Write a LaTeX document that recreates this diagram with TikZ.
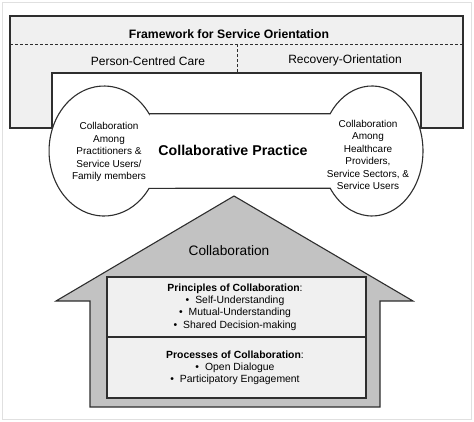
\documentclass[tikz,border=0pt]{standalone}
\usepackage{fontspec}
\setmainfont{Liberation Sans}
\definecolor{panel}{HTML}{F0F0F0}
\definecolor{roof}{HTML}{C2C2C2}
\definecolor{edge}{HTML}{2E2E2E}
\begin{document}
\begin{tikzpicture}[x=1pt, y=-1pt, line width=1.1pt,
  every node/.style={align=center, inner sep=0pt, font=\fontsize{10.4}{12.3}\selectfont},
  header/.style={font=\fontsize{12.2}{14}\selectfont\bfseries},
  pillar/.style={font=\fontsize{12}{14}\selectfont},
  circletext/.style={font=\fontsize{10}{12.5}\selectfont},
  outline/.style={draw=edge}]

  \useasboundingbox (0,0) rectangle (474,421);
  \draw[black!12, line width=0.8pt] (2,2) rectangle (471,419);

  % Framework frame
  \draw[outline, fill=panel] (10,16) -- (463,16) -- (463,128) -- (421,128)
    -- (421,73) -- (52,73) -- (52,128) -- (10,128) -- cycle;
  \draw[edge, line width=0.7pt, densely dashed] (10,44) -- (463,44);
  \draw[edge, line width=0.7pt, densely dashed] (237,44) -- (237,73);

  \node[header] (framework) at (229,34) {Framework for Service Orientation};
  \node[pillar] (personcare) at (148,61) {Person-Centred Care};
  \node[pillar] (recovery) at (345,60) {Recovery-Orientation};

  % Collaborative practice bone
  \draw[outline, fill=white] (149.1,113.7) -- (330.2,113.7)
    arc[start angle=-145, end angle=145, x radius=51, y radius=65]
    -- (149.1,188.3)
    arc[start angle=35, end angle=325, x radius=55, y radius=65] -- cycle;

  \node[font=\fontsize{14.2}{16}\selectfont\bfseries] (practice) at (233,150) {Collaborative Practice};
  \node[circletext] (leftcircle) at (109,152) {Collaboration\\Among\\Practitioners \&\\Service Users/\\Family members};
  \node[circletext] (rightcircle) at (368,155) {Collaboration\\Among\\Healthcare\\Providers,\\Service Sectors, \&\\Service Users};

  % House of collaboration
  \draw[outline, fill=roof] (234,196) -- (413,301) -- (380,301) -- (380,407)
    -- (90,407) -- (90,301) -- (56,301) -- cycle;
  \draw[outline, fill=panel] (107,277) rectangle (366,398);
  \draw[outline] (107,337) -- (366,337);

  \node[font=\fontsize{13.7}{15}\selectfont] (collab) at (229,251) {Collaboration};
  \node (principles) at (235,307) {\textbf{Principles of Collaboration}:\\
    \textbullet\hspace{6pt}Self-Understanding\\
    \textbullet\hspace{6pt}Mutual-Understanding\\
    \textbullet\hspace{6pt}Shared Decision-making};
  \node (processes) at (235,368) {\textbf{Processes of Collaboration}:\\
    \textbullet\hspace{6pt}Open Dialogue\\
    \textbullet\hspace{6pt}Participatory Engagement};

\end{tikzpicture}
\end{document}
